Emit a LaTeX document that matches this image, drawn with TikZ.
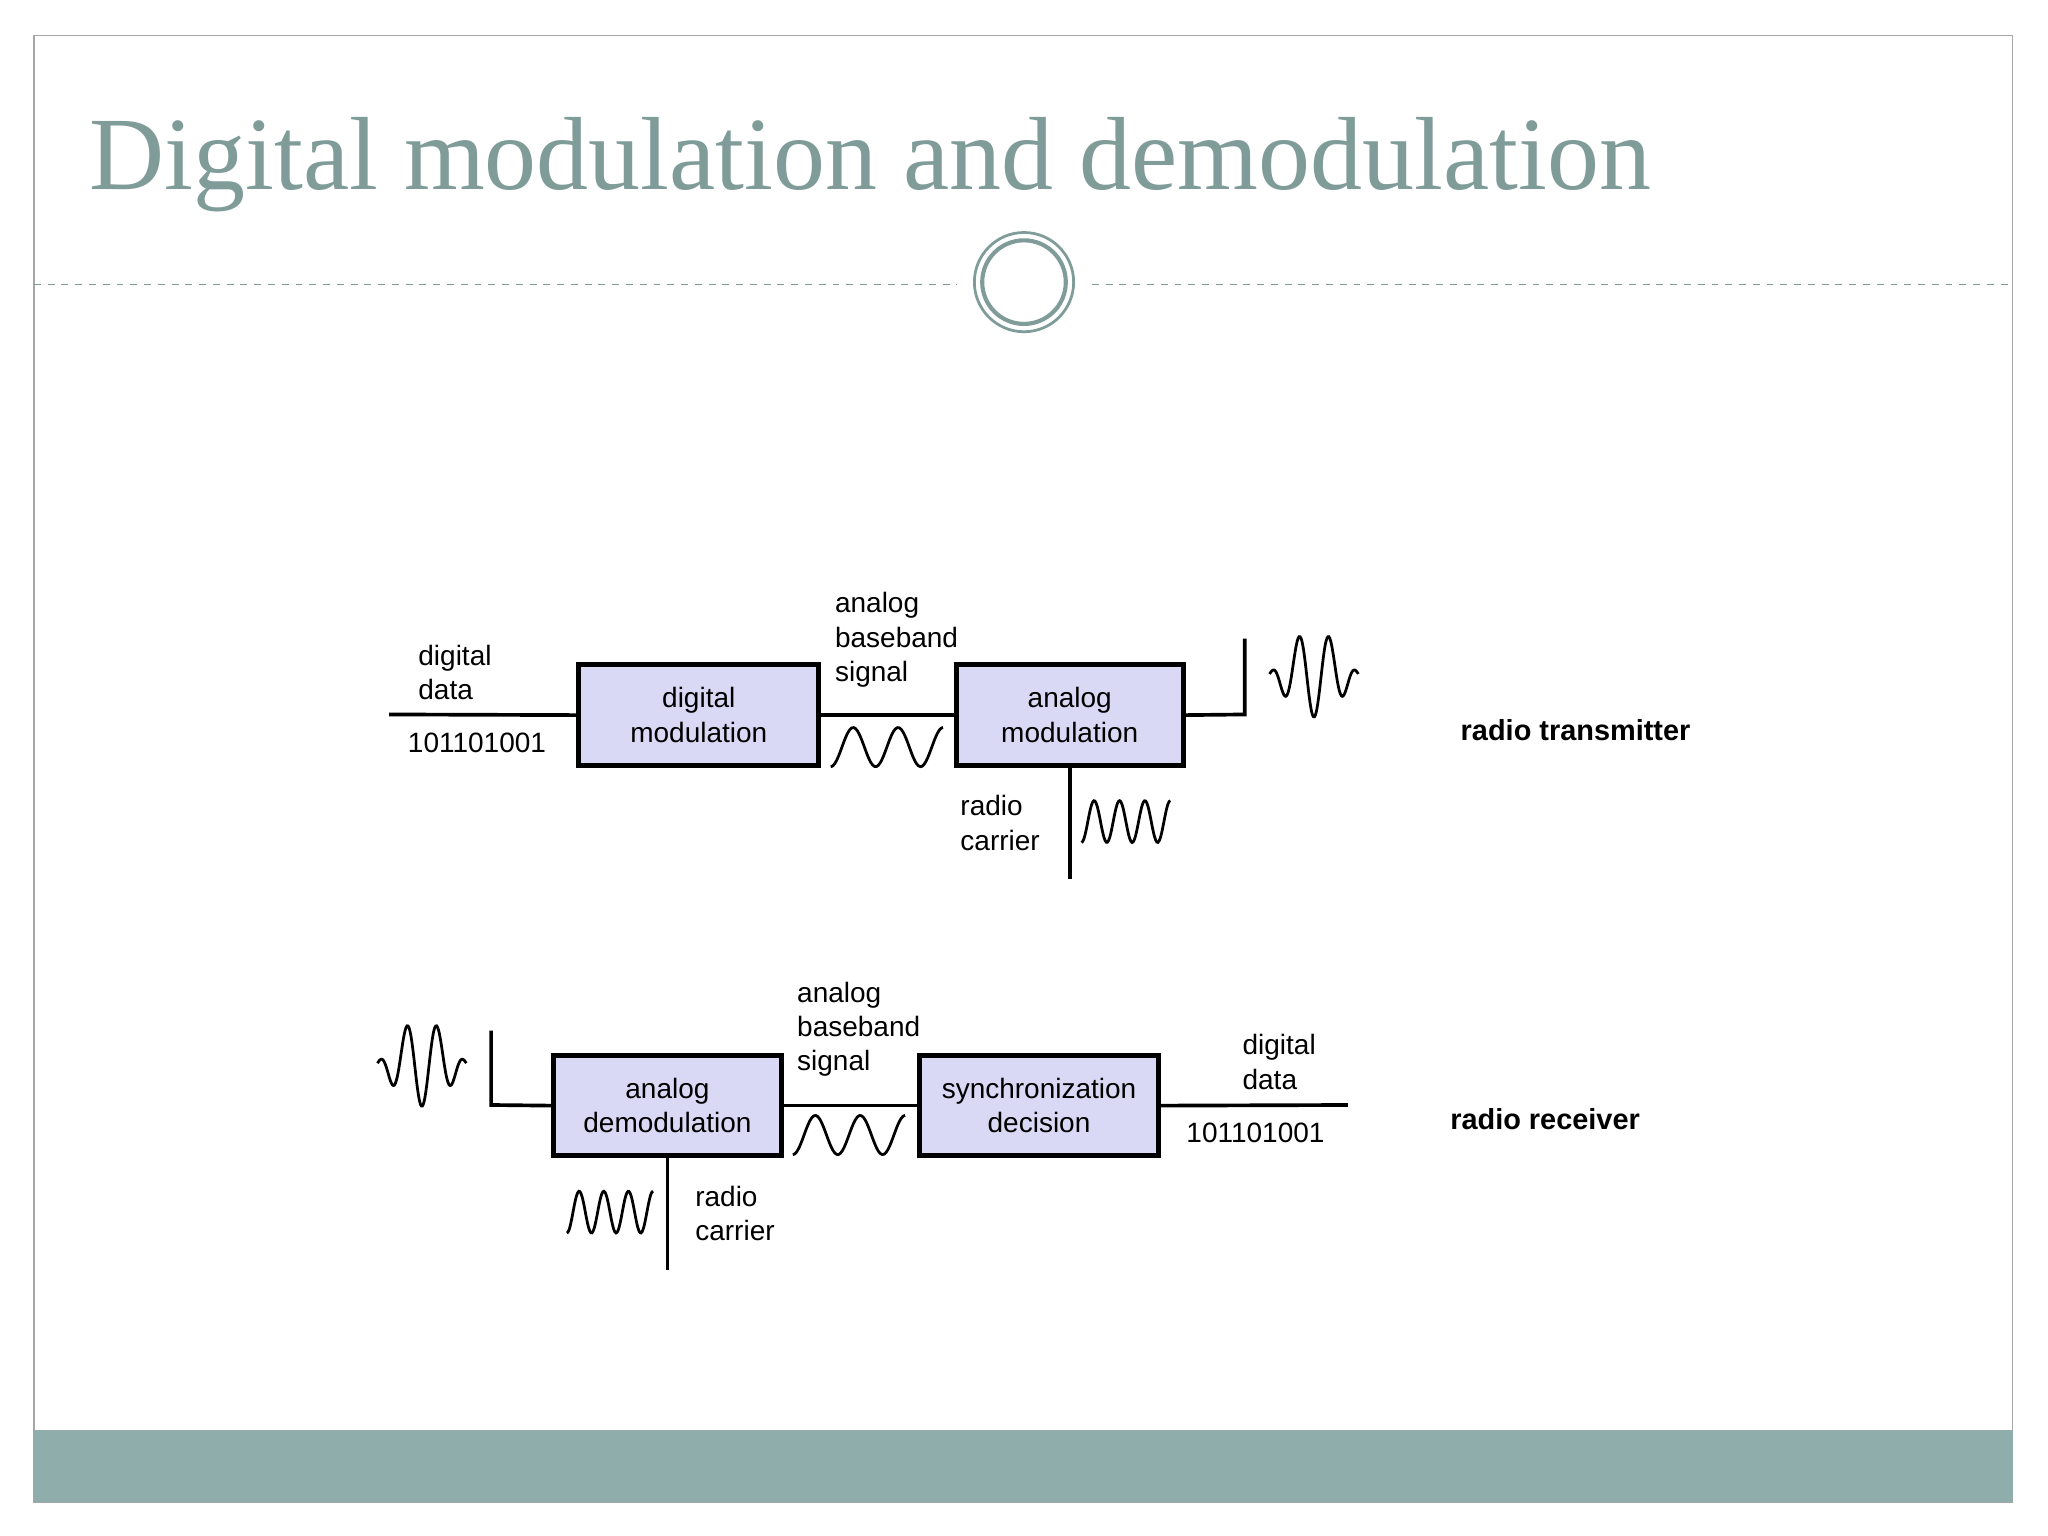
\documentclass[tikz,border=0pt]{standalone}
\usepackage{fontspec}
\setmainfont{Liberation Sans}
\newfontfamily\titlefont{Liberation Serif}
\definecolor{teal1}{RGB}{143,173,171}
\definecolor{titlec}{RGB}{127,156,153}
\definecolor{boxc}{RGB}{217,217,245}
\tikzset{blk/.style={draw=black,line width=2.2pt,fill=boxc,minimum width=3.6cm,minimum height=1.54cm,align=center,inner sep=0pt,font=\fontsize{12.2}{15}\selectfont},
lbl/.style={align=left,anchor=west,inner sep=0pt,font=\fontsize{12.2}{15}\selectfont},
wire/.style={line width=1.6pt},
wave/.style={line width=1.2pt,smooth}}
\begin{document}
\begin{tikzpicture}[x=0.02cm,y=-0.02cm]
\useasboundingbox (0,0) rectangle (1568,1176);
\fill[white] (0,0) rectangle (1568,1176);
\draw[gray!70,line width=0.6pt] (26,27) rectangle (1541,1150);
\fill[teal1] (26,1095) rectangle (1541,1150);
\node[anchor=base west,inner sep=0pt,text=titlec,font=\titlefont\fontsize{45.3}{52}\selectfont] (title) at (68,145) {Digital modulation and demodulation};
\draw[titlec,dashed,line width=0.6pt] (26,218) -- (733,218) (836,218) -- (1541,218);
\draw[titlec,line width=1.2pt] (784,216) circle (38);
\draw[titlec,line width=1.8pt] (784,216) circle (32);
% transmitter
\node[blk,minimum width=3.68cm] (dm) at (535,547.5) {digital\\modulation};
\node[blk,minimum width=3.48cm] (am) at (819,547.5) {analog\\modulation};
\coordinate (in1) at (298,547);
\coordinate (ant1) at (953,489);
\coordinate (rc1) at (819,673);
\draw[wire] (in1) -- (dm.west);
\draw[wire] (dm.east) -- (am.west);
\draw[wire] (am.east) -- (953,547) -- (ant1);
\draw[wire] (am.south) -- (rc1);
\node[lbl] (t1) at (320,515) {digital\\data};
\node[lbl] (t2) at (312,569) {101101001};
\node[lbl] (t3) at (639,490) {analog\\baseband\\signal};
\node[lbl] (t4) at (735,630) {radio\\carrier};
\node[lbl,font=\bfseries\fontsize{12.6}{15}\selectfont] (t5) at (1118,559) {radio transmitter};
\draw[wave] plot[domain=636:722,samples=60] (\x,{572-15*sin((\x-636)/86*900-90)});
\draw[wave] plot[domain=828:896,samples=80] (\x,{629-16*sin((\x-828)/68*1260-90)});
\draw[wave] plot[domain=972:1040,samples=100] (\x,{516-33*sin((\x-972)/68*180)*sin((\x-972)/68*1080+90)});
% receiver
\node[blk,minimum width=3.48cm] (ad) at (511,846.5) {analog\\demodulation};
\node[blk,minimum width=3.66cm] (sd) at (795.5,846.5) {synchronization\\decision};
\coordinate (ant2) at (376,789);
\coordinate (out2) at (1032,846);
\coordinate (rc2) at (511,972);
\draw[wire] (ant2) -- (376,846) -- (ad.west);
\draw[wire] (ad.east) -- (sd.west);
\draw[wire] (sd.east) -- (out2);
\draw[wire] (ad.south) -- (rc2);
\node[lbl] (r1) at (610,788) {analog\\baseband\\signal};
\node[lbl] (r2) at (951,813) {digital\\data};
\node[lbl] (r3) at (908,867) {101101001};
\node[lbl] (r4) at (532,929) {radio\\carrier};
\node[lbl,font=\bfseries\fontsize{12.6}{15}\selectfont] (r5) at (1110,857) {radio receiver};
\draw[wave] plot[domain=607:693,samples=60] (\x,{869-15*sin((\x-607)/86*900-90)});
\draw[wave] plot[domain=434:500,samples=80] (\x,{928-16*sin((\x-434)/66*1260-90)});
\draw[wave] plot[domain=289:357,samples=100] (\x,{814-33*sin((\x-289)/68*180)*sin((\x-289)/68*1080+90)});
\end{tikzpicture}
\end{document}
